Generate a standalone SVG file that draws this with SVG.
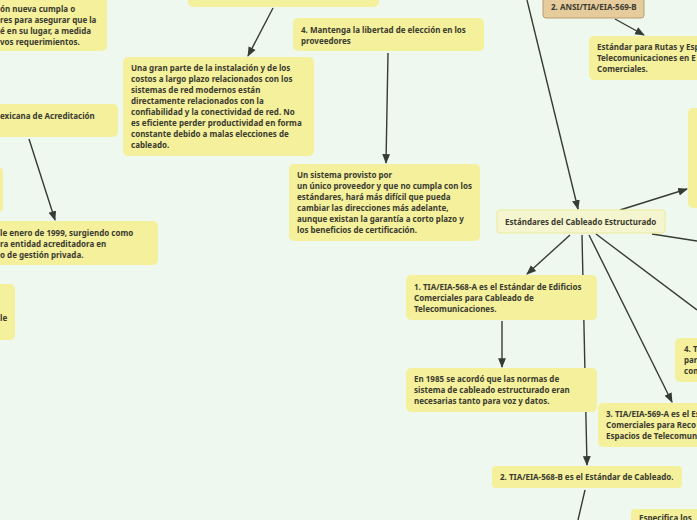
<svg xmlns="http://www.w3.org/2000/svg" width="697" height="520" viewBox="0 0 697 520">
<defs>
<marker id="ah" viewBox="0 0 10 10" refX="9" refY="5" markerWidth="7" markerHeight="7" orient="auto-start-reverse"><path d="M0,1 L10,5 L0,9 z" fill="#353c35"/></marker>
<style>
.n{fill:#f4f09c}
.t{font-family:"Noto Sans","DejaVu Sans",sans-serif;font-size:8px;font-weight:bold;fill:#3b3b30}
.c{stroke:#353c35;stroke-width:1.4;fill:none}
.a{marker-end:url(#ah)}
</style>
</defs>
<rect width="697" height="520" fill="#eff8ee"/>
<g id="connectors">
<line class="c a" x1="273" y1="8" x2="248" y2="56"/>
<line class="c a" x1="388" y1="53" x2="386" y2="163"/>
<line class="c a" x1="29" y1="139" x2="55" y2="220"/>
<line class="c a" x1="615" y1="19" x2="644" y2="35"/>
<line class="c a" x1="527" y1="0" x2="578" y2="209"/>
<line class="c a" x1="620" y1="210" x2="687" y2="189"/>
<line class="c" x1="652" y1="234" x2="697" y2="241"/>
<line class="c" x1="596" y1="234" x2="697" y2="310"/>
<line class="c a" x1="589" y1="235" x2="672" y2="402"/>
<line class="c a" x1="582" y1="235" x2="587" y2="465"/>
<line class="c a" x1="570" y1="235" x2="527" y2="274"/>
<line class="c a" x1="502" y1="321" x2="502" y2="367"/>
<line class="c" x1="585" y1="490" x2="578" y2="520"/>
</g>
<g id="n1"><rect class="n" x="-10" y="-10" width="117" height="61" rx="5"/>
<text class="t" x="0" y="12">ón nueva cumpla o</text><text class="t" x="0" y="23">res para asegurar que la</text><text class="t" x="0" y="34">é en su lugar, a medida</text><text class="t" x="0" y="45">vos requerimientos.</text></g>
<g id="n2"><rect class="n" x="188" y="-10" width="191" height="17" rx="5"/></g>
<g id="n3"><rect class="n" x="293" y="18" width="191" height="33" rx="5"/>
<text class="t" x="301" y="33">4. Mantenga la libertad de elección en los</text><text class="t" x="301" y="44">proveedores</text></g>
<g id="n4"><rect class="n" x="123" y="57" width="191" height="99" rx="5"/>
<text class="t" x="131" y="71">Una gran parte de la instalación y de los</text><text class="t" x="131" y="82">costos a largo plazo relacionados con los</text><text class="t" x="131" y="93">sistemas de red modernos están</text><text class="t" x="131" y="104">directamente relacionados con la</text><text class="t" x="131" y="115">confiabilidad y la conectividad de red. No</text><text class="t" x="131" y="126">es eficiente perder productividad en forma</text><text class="t" x="131" y="137">constante debido a malas elecciones de</text><text class="t" x="131" y="148">cableado.</text></g>
<g id="n5"><rect class="n" x="289" y="164" width="191" height="77" rx="5"/>
<text class="t" x="297" y="178">Un sistema provisto por</text><text class="t" x="297" y="189">un único proveedor y que no cumpla con los</text><text class="t" x="297" y="200">estándares, hará más difícil que pueda</text><text class="t" x="297" y="211">cambiar las direcciones más adelante,</text><text class="t" x="297" y="222">aunque existan la garantía a corto plazo y</text><text class="t" x="297" y="233">los beneficios de certificación.</text></g>
<g id="n6"><rect class="n" x="-10" y="104" width="128" height="33" rx="5"/>
<text class="t" x="0" y="119">exicana de Acreditación</text></g>
<g id="n7"><rect class="n" x="-10" y="168" width="13" height="43" rx="3"/></g>
<g id="n8"><rect class="n" x="-10" y="221" width="168" height="44" rx="5"/>
<text class="t" x="0" y="236">le enero de 1999, surgiendo como</text><text class="t" x="0" y="247">ra entidad acreditadora en</text><text class="t" x="0" y="258">o de gestión privada.</text></g>
<g id="n9"><rect class="n" x="-10" y="284" width="25" height="56" rx="5"/>
<text class="t" x="0" y="321">le</text></g>
<g id="n10"><rect x="543" y="-10" width="101" height="28" rx="3" fill="#e6cb9c" stroke="#b89d6c"/>
<text class="t" x="551" y="10">2. ANSI/TIA/EIA-569-B</text></g>
<g id="n11"><rect class="n" x="589" y="36" width="118" height="44" rx="5"/>
<text class="t" x="597" y="50">Estándar para Rutas y Esp</text><text class="t" x="597" y="61">Telecomunicaciones en E</text><text class="t" x="597" y="72">Comerciales.</text></g>
<g id="n12"><rect class="n" x="688" y="108" width="20" height="100" rx="5"/></g>
<g id="center"><rect x="497" y="210" width="168" height="23" rx="3" fill="#f5f6cf" stroke="#eaea9a"/>
<text class="t" x="505" y="225">Estándares del Cableado Estructurado</text></g>
<g id="n13"><rect class="n" x="406" y="275" width="191" height="45" rx="5"/>
<text class="t" x="414" y="290">1. TIA/EIA-568-A es el Estándar de Edificios</text><text class="t" x="414" y="301">Comerciales para Cableado de</text><text class="t" x="414" y="312">Telecomunicaciones.</text></g>
<g id="n14"><rect class="n" x="406" y="368" width="191" height="44" rx="5"/>
<text class="t" x="414" y="382">En 1985 se acordó que las normas de</text><text class="t" x="414" y="393">sistema de cableado estructurado eran</text><text class="t" x="414" y="404">necesarias tanto para voz y datos.</text></g>
<g id="n15"><rect class="n" x="675" y="338" width="32" height="44" rx="5"/>
<text class="t" x="684" y="352">4. T</text><text class="t" x="684" y="363">par</text><text class="t" x="684" y="374">com</text></g>
<g id="n16"><rect class="n" x="598" y="403" width="109" height="44" rx="5"/>
<text class="t" x="606" y="417">3. TIA/EIA-569-A es el Es</text><text class="t" x="606" y="428">Comerciales para Reco</text><text class="t" x="606" y="439">Espacios de Telecomun</text></g>
<g id="n17"><rect class="n" x="492" y="466" width="190" height="22" rx="4"/>
<text class="t" x="500" y="480">2. TIA/EIA-568-B es el Estándar de Cableado.</text></g>
<g id="n18"><rect class="n" x="631" y="509" width="76" height="20" rx="4"/>
<text class="t" x="639" y="521">Especifica los</text></g>
</svg>
